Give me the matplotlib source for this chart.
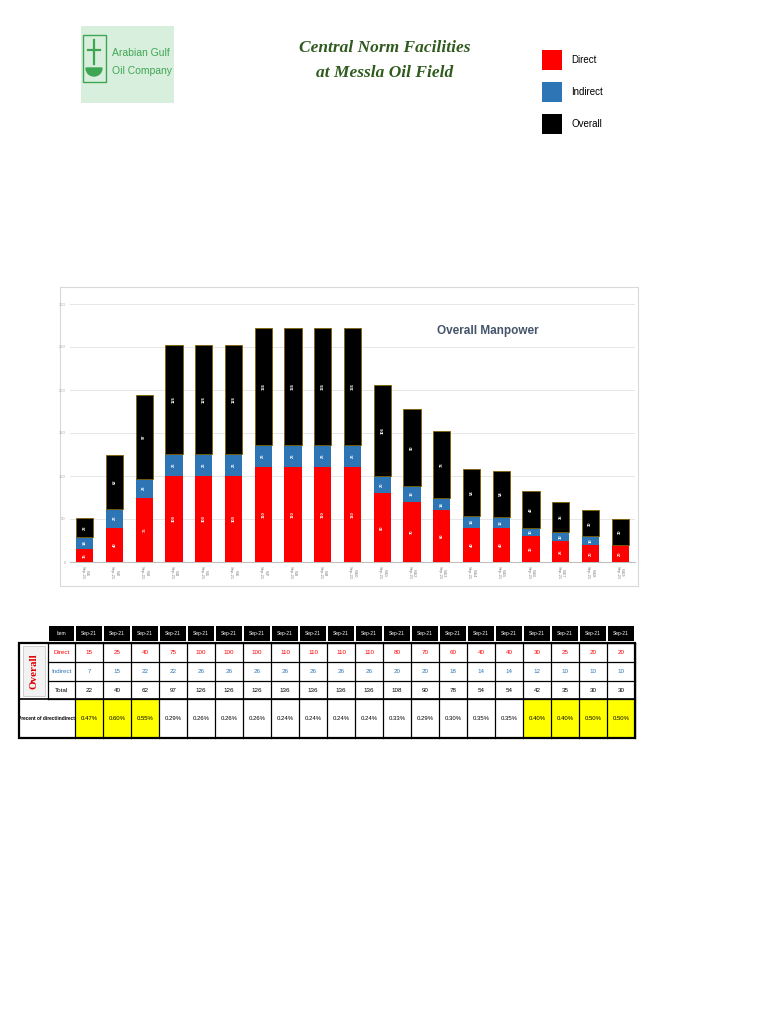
import numpy as np
import matplotlib
matplotlib.use("Agg")
import matplotlib.pyplot as plt
from matplotlib.patches import Rectangle, Wedge

plt.rcParams['font.family'] = ['Liberation Sans Narrow', 'Liberation Sans', 'DejaVu Sans']

# ---- chart data ----
bar_labels = ["Sep-21"] * 19
direct_bar = [15, 40, 75, 100, 100, 100, 110, 110, 110, 110, 80, 70, 60, 40, 40, 30, 25, 20, 20]
indirect_bar = [14, 22, 22, 26, 26, 26, 26, 26, 26, 26, 20, 18, 14, 14, 12, 10, 10, 10, 0]
overall_bar = [22, 62, 97, 126, 126, 126, 136, 136, 136, 136, 106, 90, 78, 54, 54, 42, 35, 30, 30]
y_ticks = [0, 50, 100, 150, 200, 250, 300]

# ---- table data ----
months = ["Sep-21"] * 20
direct_tab = [15, 25, 40, 75, 100, 100, 100, 110, 110, 110, 110, 80, 70, 60, 40, 40, 30, 25, 20, 20]
indirect_tab = [7, 15, 22, 22, 26, 26, 26, 26, 26, 26, 26, 20, 20, 18, 14, 14, 12, 10, 10, 10]
total_tab = [22, 40, 62, 97, 126, 126, 126, 136, 136, 136, 136, 108, 90, 78, 54, 54, 42, 35, 30, 30]
percent_tab = ["0.47%", "0.60%", "0.55%", "0.29%", "0.26%", "0.26%", "0.26%", "0.24%", "0.24%",
               "0.24%", "0.24%", "0.33%", "0.29%", "0.30%", "0.35%", "0.35%", "0.40%", "0.40%",
               "0.50%", "0.50%"]
highlight = [0, 1, 2, 16, 17, 18, 19]

RED = "#ff0000"
BLUE = "#2e75b6"

W, H = 768, 1024
fig = plt.figure(figsize=(W / 100, H / 100), dpi=100)

# overlay in pixel coordinates for header, frame and table
ov = fig.add_axes([0, 0, 1, 1], zorder=0)
ov.set_xlim(0, W)
ov.set_ylim(H, 0)
ov.axis('off')

# logo
ov.add_patch(Rectangle((81, 26), 93, 77, color="#d9efdd", lw=0))
ov.add_patch(Rectangle((82.5, 35), 23, 47, fill=False, ec="#3ea653", lw=1.0))
ov.plot([94, 94], [40, 64], color="#3ea653", lw=1.6)
ov.plot([88, 100], [50, 50], color="#3ea653", lw=1.6)
ov.add_patch(Wedge((94, 68), 8, 0, 180, color="#3ea653"))
ov.text(112, 53, "Arabian Gulf", color="#3ea653", fontsize=7.5, va='center', ha='left')
ov.text(112, 71, "Oil Company", color="#3ea653", fontsize=7.5, va='center', ha='left')

# title
ov.text(385, 48, "Central Norm Facilities", color="#2f5b1e", fontsize=12.5, ha='center',
        va='center', family='Liberation Serif', style='italic', weight='bold')
ov.text(385, 73, "at Messla Oil Field", color="#2f5b1e", fontsize=12.5, ha='center',
        va='center', family='Liberation Serif', style='italic', weight='bold')

# legend squares
for yy, col, lab in [(50, RED, "Direct"), (82, BLUE, "Indirect"), (114, "black", "Overall")]:
    ov.add_patch(Rectangle((542, yy), 20, 20, color=col, lw=0))
    ov.text(571, yy + 10, lab, fontsize=7, va='center', ha='left')

# chart frame
ov.add_patch(Rectangle((60, 287), 578, 299, fill=False, ec="#d9d9d9", lw=0.8))

# ---- chart ----
ax = fig.add_axes([70 / W, 1 - 562 / H, 565 / W, 258 / H], zorder=1)
ax.set_facecolor("none")
x = np.arange(len(direct_bar))
bw = 0.58
d = np.array(direct_bar)
i_ = np.array(indirect_bar)
o = np.array(overall_bar)
ax.bar(x, d, bw, color=RED, zorder=3)
ax.bar(x, i_, bw, bottom=d, color=BLUE, zorder=3)
ax.bar(x, o, bw, bottom=d + i_, color="black", edgecolor="#7f6000", linewidth=0.6, zorder=3)

for k in range(len(x)):
    for val, base in [(d[k], 0), (i_[k], d[k]), (o[k], d[k] + i_[k])]:
        if val > 0:
            ax.text(x[k], base + val / 2, str(val), color="white", fontsize=3, rotation=90,
                    ha='center', va='center', zorder=4, weight='bold')

ax.set_xlim(-0.5, len(x) - 0.5)
ax.set_ylim(0, 300)
ax.set_yticks(y_ticks)
ax.set_yticklabels([str(t) for t in y_ticks], fontsize=3, color="#a6a6a6")
ax.set_xticks(x)
ax.set_xticklabels([f"W{k + 1}\n{lab}" for k, lab in enumerate(bar_labels)],
                   rotation=270, fontsize=3, color="#7f7f7f")
ax.tick_params(length=0, pad=3)
ax.grid(axis='y', color="#e6e6e6", lw=0.7, zorder=0)
for s in ['top', 'right', 'left']:
    ax.spines[s].set_visible(False)
ax.spines['bottom'].set_color("#bfbfbf")
ax.text(0.74, 0.895, "Overall Manpower", transform=ax.transAxes, fontsize=8.5,
        color="#44546a", weight='bold', ha='center', va='center')

# ---- table ----
x0, cw = 75, 28
top_h, top_b = 626, 641
rows = [(643, 662), (662, 681), (681, 699), (699, 738)]

ov.add_patch(Rectangle((48.5, top_h), x0 - 49.5, top_b - top_h, color="black", lw=0))
ov.text((48 + x0) / 2, (top_h + top_b) / 2, "Item", color="white", fontsize=3.5,
        ha='center', va='center')
for c, m in enumerate(months):
    ov.add_patch(Rectangle((x0 + c * cw + 1, top_h), cw - 2, top_b - top_h, color="black", lw=0))
    ov.text(x0 + c * cw + cw / 2, (top_h + top_b) / 2, m, color="white", fontsize=3.5,
            ha='center', va='center')

right = x0 + cw * len(months)
for c in highlight:
    ov.add_patch(Rectangle((x0 + c * cw, rows[3][0]), cw, rows[3][1] - rows[3][0],
                           color="#ffff00", lw=0))

# grid lines
for r0, r1 in rows:
    ov.plot([48, right], [r0, r0], color="black", lw=0.9)
ov.plot([19, right], [rows[3][0], rows[3][0]], color="black", lw=1.2)
for c in range(len(months) + 1):
    ov.plot([x0 + c * cw] * 2, [rows[0][0], rows[3][1]], color="black", lw=0.9)
ov.plot([48, 48], [rows[0][0], rows[2][1]], color="black", lw=0.9)
ov.add_patch(Rectangle((19, rows[0][0]), right - 19, rows[3][1] - rows[0][0],
                       fill=False, ec="black", lw=1.6))

# "Overall" side cell
ov.add_patch(Rectangle((23, 646), 22, 50, color="#f2f2f2", ec="#bfbfbf", lw=0.5))
ov.text(34, 671, "Overall", rotation=90, color="#e00000", fontsize=8, weight='bold',
        family='Liberation Serif', ha='center', va='center')

labels = ["Direct", "Indirect", "Total"]
colors = [RED, BLUE, "black"]
for r, (lab, col, vals) in enumerate(zip(labels, colors, [direct_tab, indirect_tab, total_tab])):
    yc = (rows[r][0] + rows[r][1]) / 2
    ov.text((48 + x0) / 2, yc, lab, color=col, fontsize=4.5, ha='center', va='center')
    for c, v in enumerate(vals):
        ov.text(x0 + c * cw + cw / 2, yc, str(v), color=col, fontsize=4.5,
                ha='center', va='center')

yc = (rows[3][0] + rows[3][1]) / 2
ov.text((19 + x0) / 2, yc, "Precent of direct/indirect.", fontsize=3.4, weight='bold',
        ha='center', va='center')
for c, p in enumerate(percent_tab):
    ov.text(x0 + c * cw + cw / 2, yc, p, fontsize=4.3, ha='center', va='center')

fig.savefig("out.png", dpi=100)
